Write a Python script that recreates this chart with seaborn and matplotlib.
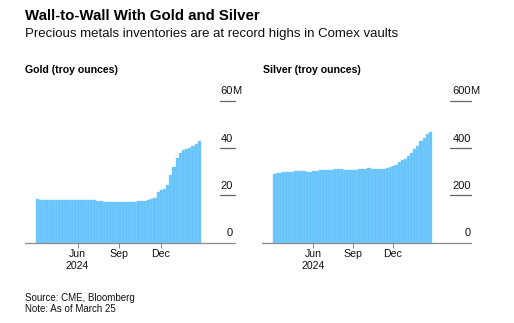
import numpy as np
import pandas as pd
import matplotlib
matplotlib.use("Agg")
import matplotlib.pyplot as plt
import matplotlib.dates as mdates
import matplotlib.transforms as mtransforms
import seaborn as sns

# ---------------- data ----------------
start_date = "2024-03-01"
n_weeks = 52
gold = [18.4, 18.0, 17.9, 17.9, 17.9, 17.9, 17.9, 18.0, 18.0, 18.1,
        18.1, 18.0, 18.0, 18.0, 18.1, 18.2, 18.2, 18.2, 18.0, 17.7,
        17.5, 17.3, 17.3, 17.2, 17.2, 17.2, 17.2, 17.2, 17.2, 17.2,
        17.2, 17.3, 17.5, 17.7, 17.8, 17.9, 18.3, 19.0, 21.5, 22.3,
        22.6, 24.5, 28.5, 32.0, 35.8, 38.0, 39.2, 39.6, 40.0, 40.8,
        41.8, 43.1]
silver = [291, 293, 295, 297, 298, 299, 300, 301, 301, 301,
          301, 300, 300, 301, 302, 306, 307, 307, 308, 308,
          310, 311, 310, 309, 308, 308, 308, 308, 310, 311,
          313, 315, 313, 311, 310, 310, 313, 317, 320, 325,
          330, 340, 348, 355, 365, 380, 395, 410, 428, 443,
          458, 468]
gold_yticks = [0, 20, 40, 60]
silver_yticks = [0, 200, 400, 600]
month_ticks = ["2024-06-01", "2024-09-01", "2024-12-01"]
month_labels = ["Jun\n2024", "Sep", "Dec"]

title = "Wall-to-Wall With Gold and Silver"
subtitle = "Precious metals inventories are at record highs in Comex vaults"
gold_title = "Gold (troy ounces)"
silver_title = "Silver (troy ounces)"
source = "Source: CME, Bloomberg"
note = "Note: As of March 25"

# ---------------- style ----------------
sns.set_theme(style="white")
plt.rcParams["font.family"] = ["Liberation Sans", "DejaVu Sans"]

BAR = "#67C4FB"
GREY = "#8a8a8a"
DARK = "#666666"

W, H = 514, 323
fig = plt.figure(figsize=(W / 100, H / 100), dpi=100)


def px_axes(x0, x1, y0, y1):
    return fig.add_axes([x0 / W, 1 - y1 / H, (x1 - x0) / W, (y1 - y0) / H])


dates = pd.date_range(start_date, periods=n_weeks, freq="7D")
dnum = mdates.date2num(dates)
centers = dnum + 3.5
t0 = dnum[0]
binrange = (dnum[0], dnum[-1] + 7)


def panel(ax, values, yticks, xl, xr, grid_frac, label_frac, suffix="M"):
    df = pd.DataFrame({"d": centers, "v": np.asarray(values, dtype=float)})
    sns.histplot(data=df, x="d", weights="v", bins=n_weeks, binrange=binrange,
                 ax=ax, color=BAR, alpha=1, edgecolor="#86cffb", linewidth=0.3)
    ax.set_xlim(t0 + xl, t0 + xr)
    ax.set_ylim(0, yticks[-1])
    ax.set_xlabel("")
    ax.set_ylabel("")
    ax.set_yticks([])
    ax.set_xticks(mdates.date2num(pd.to_datetime(month_ticks)))
    ax.set_xticklabels(month_labels)
    ax.tick_params(axis="x", bottom=True, length=3.5, width=0.8, color=GREY,
                   labelsize=7.6, pad=1.2, labelcolor="#111111")
    for s in ["top", "right", "left"]:
        ax.spines[s].set_visible(False)
    ax.spines["bottom"].set_color(GREY)
    ax.spines["bottom"].set_linewidth(0.9)
    ax.patch.set_alpha(0)
    trans = mtransforms.blended_transform_factory(ax.transAxes, ax.transData)
    ttrans = mtransforms.offset_copy(trans, fig=fig, x=0, y=6.5, units="dots")
    mtrans = mtransforms.offset_copy(trans, fig=fig, x=-0.8, y=6.5, units="dots")
    for i, v in enumerate(yticks):
        if v != 0:
            ax.plot([grid_frac, 1.0], [v, v], transform=trans, color=DARK,
                    lw=0.9, clip_on=False, zorder=5)
        ax.text(label_frac, v, f"{v}", transform=ttrans, ha="right",
                va="baseline", fontsize=8, color="#111111")
        if i == len(yticks) - 1:
            ax.text(label_frac, v, suffix, transform=mtrans, ha="left",
                    va="baseline", fontsize=8, color="#111111")


# Gold panel: x 25..235 px, baseline 242.7, top gridline 100.7
ax1 = px_axes(25, 235, 100.7, 242.7)
panel(ax1, gold, gold_yticks, -24, 439, (220 - 25) / 210, (233 - 25) / 210)

# Silver panel: x 262.3..471 px
ax2 = px_axes(262.3, 471, 100.7, 242.7)
panel(ax2, silver, silver_yticks, -23.8, 454, (450 - 262.3) / 208.7, 1.0)

# ---------------- texts ----------------
fig.text(25 / W, 1 - 20 / H, title, fontsize=10.8, fontweight="bold",
         va="baseline", ha="left", color="#000000")
fig.text(25 / W, 1 - 37.5 / H, subtitle, fontsize=9.5,
         va="baseline", ha="left", color="#111111")
fig.text(25 / W, 1 - 73 / H, gold_title, fontsize=7.6, fontweight="bold",
         va="baseline", ha="left", color="#000000")
fig.text(262.7 / W, 1 - 73 / H, silver_title, fontsize=7.6, fontweight="bold",
         va="baseline", ha="left", color="#000000")
fig.text(25 / W, 1 - 300.7 / H, source, fontsize=7.0,
         va="baseline", ha="left", color="#111111")
fig.text(25 / W, 1 - 311.7 / H, note, fontsize=7.0,
         va="baseline", ha="left", color="#111111")

fig.savefig("out.png", dpi=100)
